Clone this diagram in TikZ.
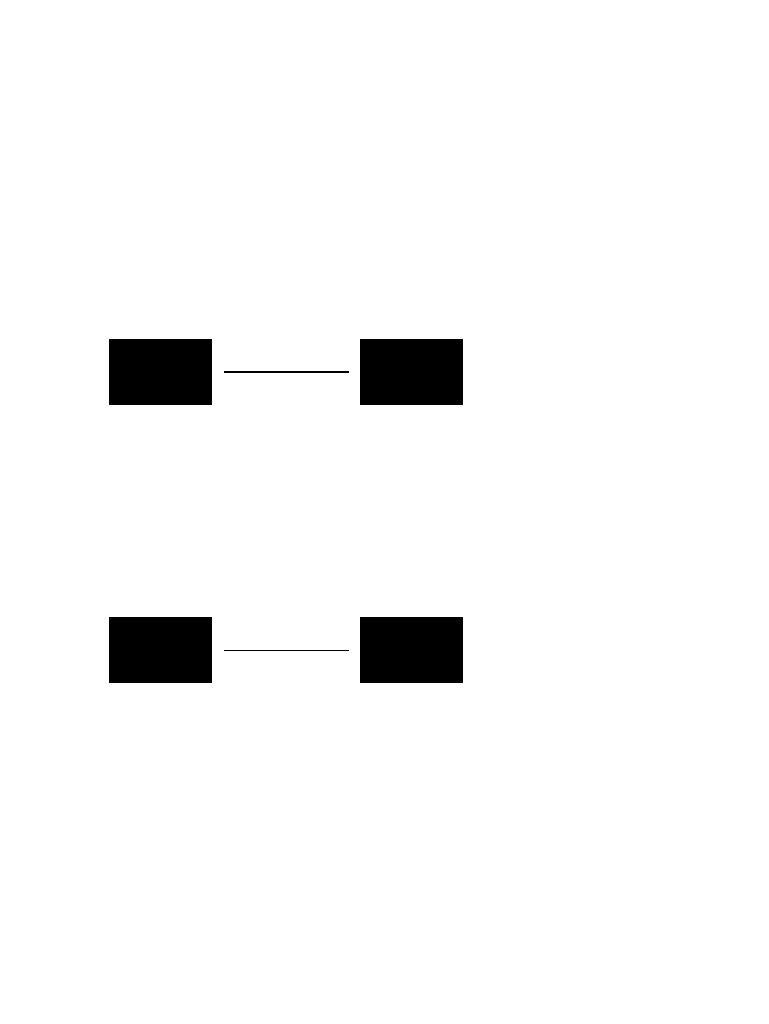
\documentclass[tikz,border=0pt]{standalone}
\begin{document}
\begin{tikzpicture}[x=1pt,y=-1pt,
  blockbox/.style={rectangle,fill=black,draw=none,inner sep=0pt,minimum width=102.4pt,minimum height=66pt},
  link/.style={draw=black,shorten <=12pt,shorten >=11pt}]
\useasboundingbox[fill=white] (0,0) rectangle (768,1024);
\node[blockbox] (a1) at (160.5,372.3) {};
\node[blockbox] (b1) at (411.5,372.3) {};
\node[blockbox] (a2) at (160.5,650.3) {};
\node[blockbox] (b2) at (411.5,650.3) {};
\draw[link,line width=2pt] (a1) -- (b1);
\draw[link,line width=1pt] (a2) -- (b2);
\end{tikzpicture}
\end{document}
